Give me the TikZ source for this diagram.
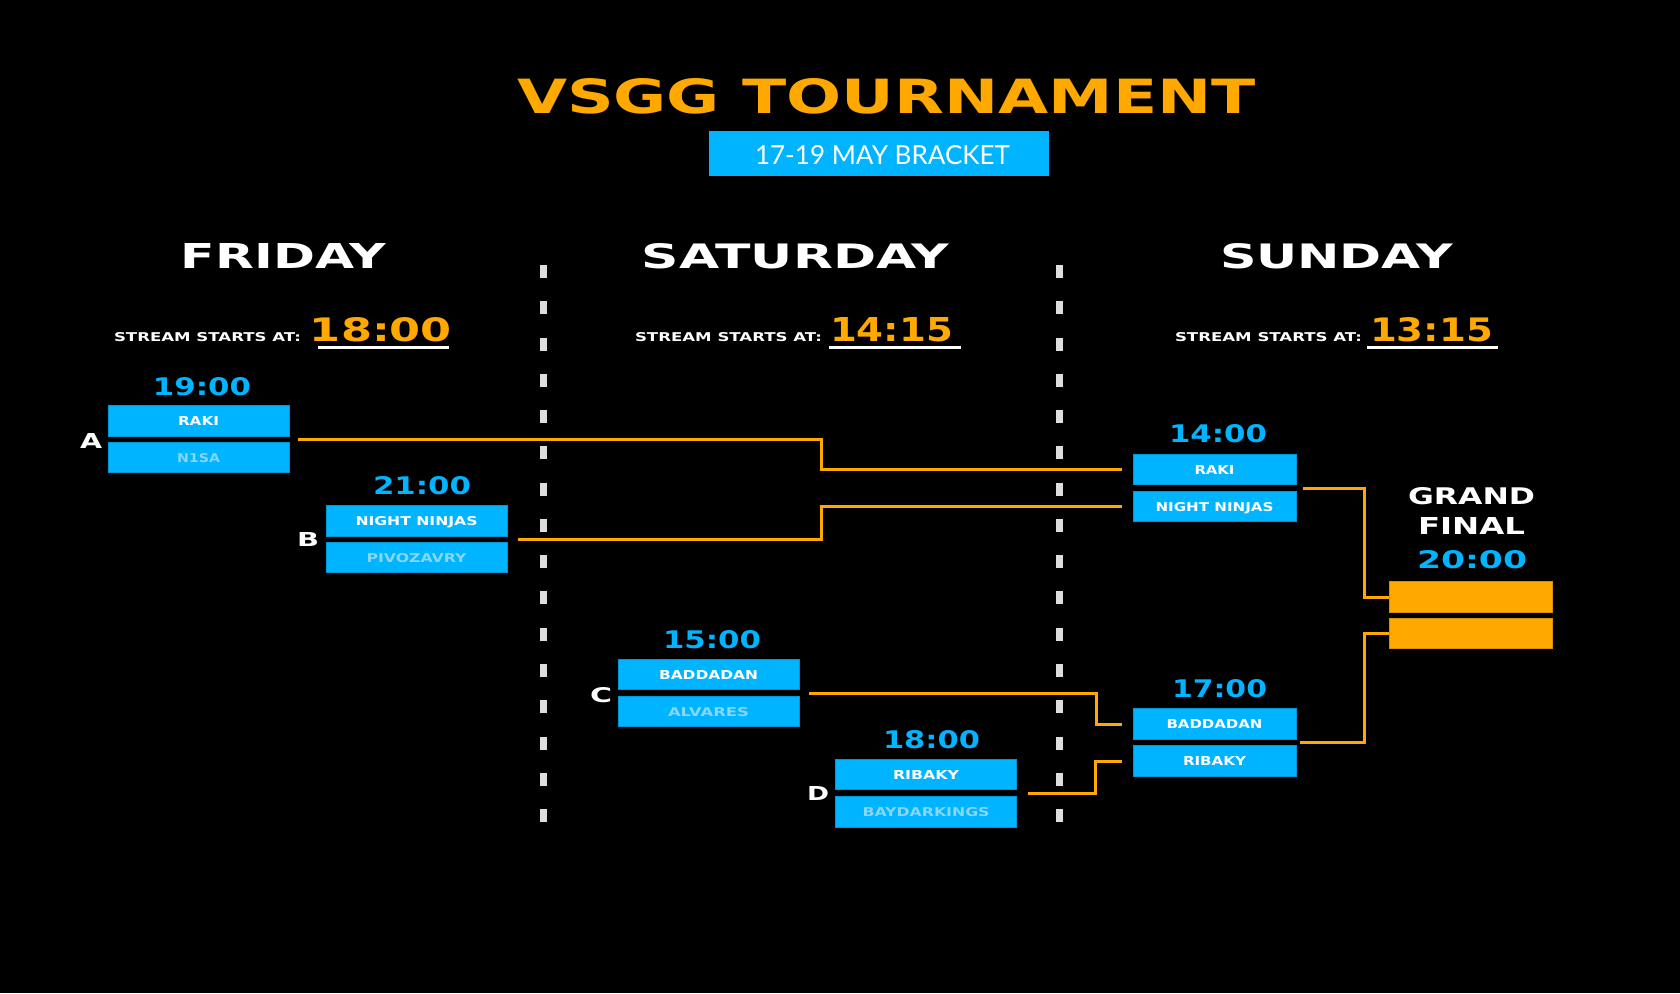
\documentclass[tikz,border=0pt]{standalone}
\usepackage{fontspec}
\setmainfont{DejaVu Sans}
\newfontfamily\bannerfont{Lato}
\usepackage{graphicx}
\usetikzlibrary{calc}
\definecolor{vsblue}{RGB}{0,180,255}
\definecolor{vsblueedge}{RGB}{0,150,215}
\definecolor{vsorange}{RGB}{255,168,0}
\definecolor{vsdash}{RGB}{222,222,222}
\definecolor{vsfaint}{RGB}{135,215,250}
\newcommand\fitt[3]{\resizebox{#1pt}{#2pt}{\raisebox{0pt}[\height][0pt]{\bfseries #3}}}
\begin{document}
\begin{tikzpicture}[x=1pt,y=-1pt,
  txt/.style={inner sep=0pt,outer sep=0pt},
  teambox/.style={fill=vsblue,draw=vsblueedge,line width=0.8pt,minimum width=181pt,minimum height=30.5pt,inner sep=0pt,text=white},
  sunbox/.style={teambox,minimum width=163pt},
  finalbox/.style={fill=vsorange,draw=vsorange!85!black,line width=0.8pt,minimum width=163pt,minimum height=30.5pt,inner sep=0pt},
  conn/.style={draw=vsorange,line width=3pt},
  daydash/.style={draw=vsdash,line width=7pt,dash pattern=on 13pt off 23.27pt},
  uline/.style={draw=white,line width=3pt}]
\fill[black] (0,0) rectangle (1680,993);
\useasboundingbox (0,0) rectangle (1680,993);

% title and banner
\node[txt,text=vsorange] (title) at (886.5,95.5) {\fitt{739}{35}{VSGG TOURNAMENT}};
\node[fill=vsblue,minimum width=340pt,minimum height=45pt,inner sep=0pt] (banner) at (879,153.5) {};
\node[txt,text=white] (bannertxt) at (882.5,154.5) {\resizebox{255pt}{19pt}{\raisebox{0pt}[\height][0pt]{\bannerfont 17-19 MAY BRACKET}}};

% day separators
\draw[daydash] (543,265) -- (543,823);
\draw[daydash] (1059,265) -- (1059,823);

% day headers
\node[txt,text=white] (fri) at (283.5,255.5) {\fitt{205}{25}{FRIDAY}};
\node[txt,text=white] (sat) at (795.5,255.5) {\fitt{307}{25}{SATURDAY}};
\node[txt,text=white] (sun) at (1336.5,255.5) {\fitt{233}{25}{SUNDAY}};

% stream start lines
\node[txt,text=white] (frils) at (207.5,337) {\fitt{187}{9}{STREAM STARTS AT:}};
\node[txt,text=vsorange] (frit) at (381,329) {\fitt{142}{24}{18:00}};
\draw[uline] (318,347) -- (449,347);
\node[txt,text=white] (satls) at (728.5,337) {\fitt{187}{9}{STREAM STARTS AT:}};
\node[txt,text=vsorange] (satt) at (891.5,329) {\fitt{123}{24}{14:15}};
\draw[uline] (829,347) -- (961,347);
\node[txt,text=white] (sunls) at (1268.5,337) {\fitt{187}{9}{STREAM STARTS AT:}};
\node[txt,text=vsorange] (sunt) at (1431.5,329) {\fitt{123}{24}{13:15}};
\draw[uline] (1367,347) -- (1498,347);

% match A
\node[txt,text=vsblue] (ta) at (202,386) {\fitt{98}{18}{19:00}};
\node[teambox] (a1) at (198.5,421) {\fitt{41}{9}{RAKI}};
\node[teambox,text=vsfaint] (a2) at (198.5,457.5) {\fitt{43}{9}{N1SA}};
\node[txt,text=white] (la) at (91,440.5) {\fitt{22}{15}{A}};

% match B
\node[txt,text=vsblue] (tb) at (422,485.5) {\fitt{98}{18}{21:00}};
\node[teambox] (b1) at (416.5,521) {\fitt{122}{9}{NIGHT NINJAS}};
\node[teambox,text=vsfaint] (b2) at (416.5,557.5) {\fitt{100}{9}{PIVOZAVRY}};
\node[txt,text=white] (lb) at (308,539) {\fitt{22}{14}{B}};

% match C
\node[txt,text=vsblue] (tc) at (712,639.5) {\fitt{98}{18}{15:00}};
\node[teambox] (c1) at (708.5,674.5) {\fitt{99}{9}{BADDADAN}};
\node[teambox,text=vsfaint] (c2) at (708.5,711.5) {\fitt{81}{9}{ALVARES}};
\node[txt,text=white] (lc) at (601,694.5) {\fitt{22}{15}{C}};

% match D
\node[txt,text=vsblue] (td) at (931.5,739.5) {\fitt{97}{18}{18:00}};
\node[teambox] (d1) at (926,774.5) {\fitt{66}{9}{RIBAKY}};
\node[teambox,text=vsfaint] (d2) at (926,812) {\fitt{127}{9}{BAYDARKINGS}};
\node[txt,text=white] (ld) at (818,793) {\fitt{22}{14}{D}};

% sunday semifinals
\node[txt,text=vsblue] (ts1) at (1218,433) {\fitt{98}{18}{14:00}};
\node[sunbox] (s1) at (1214.5,469.5) {\fitt{40}{9}{RAKI}};
\node[sunbox] (s2) at (1214.5,506.5) {\fitt{118}{9}{NIGHT NINJAS}};
\node[txt,text=vsblue] (ts2) at (1219.5,688.5) {\fitt{95}{18}{17:00}};
\node[sunbox] (s3) at (1214.5,724) {\fitt{96}{9}{BADDADAN}};
\node[sunbox] (s4) at (1214.5,761) {\fitt{63}{9}{RIBAKY}};

% grand final
\node[txt,text=white] (gf1) at (1471.5,495.5) {\fitt{127}{17}{GRAND}};
\node[txt,text=white] (gf2) at (1471.5,525.5) {\fitt{107}{17}{FINAL}};
\node[txt,text=vsblue] (tg) at (1472,559) {\fitt{110}{18}{20:00}};
\node[finalbox] (g1) at (1470.5,597) {};
\node[finalbox] (g2) at (1470.5,633.5) {};

% connector ends
\coordinate (aout) at ($(a1.south east)!.5!(a2.north east)+(9,0)$);
\coordinate (bout) at ($(b1.south east)!.5!(b2.north east)+(11,0)$);
\coordinate (cout) at ($(c1.south east)!.5!(c2.north east)+(10,0)$);
\coordinate (dout) at ($(d1.south east)!.5!(d2.north east)+(11,0)$);
\coordinate (s12out) at ($(s1.south east)!.5!(s2.north east)+(7,0)$);
\coordinate (s34out) at ($(s3.south east)!.5!(s4.north east)+(4,0)$);
\coordinate (s1in) at ($(s1.west)+(-11,0)$);
\coordinate (s2in) at ($(s2.west)+(-11,0)$);
\coordinate (s3in) at ($(s3.west)+(-11,0)$);
\coordinate (s4in) at ($(s4.west)+(-11,0)$);

% connectors
\draw[conn] (aout) -- ++(523,0) |- (s1in);
\draw[conn] (bout) -- ++(303,0) |- (s2in);
\draw[conn] (cout) -- ++(287,0) |- (s3in);
\draw[conn] (dout) -- ++(68,0) |- (s4in);
\draw[conn] (s12out) -- ++(61,0) |- (g1.west);
\draw[conn] (s34out) -- ++(64,0) |- (g2.west);
\end{tikzpicture}
\end{document}
